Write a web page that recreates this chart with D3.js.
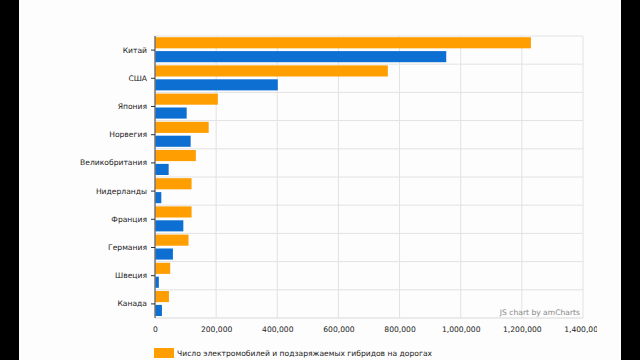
<!DOCTYPE html>
<html>
<head>
<meta charset="utf-8">
<script src="https://cdn.jsdelivr.net/npm/d3@7/dist/d3.min.js"></script>
<style>
html,body{margin:0;padding:0;background:#000;}
svg{display:block;}
</style>
</head>
<body>
<svg id="chart" width="640" height="360"></svg>
<script>
const categories = ["Китай","США","Япония","Норвегия","Великобритания","Нидерланды","Франция","Германия","Швеция","Канада"];
const seriesNames = ["Число электромобилей и подзаряжаемых гибридов на дорогах"];
const seriesA = [1228000, 760000, 204000, 174000, 132000, 118000, 118000, 108000, 48000, 44000];
const seriesB = [951000, 400000, 102000, 115000, 43000, 19000, 91000, 57000, 11000, 21000];
const xTicks = [0,200000,400000,600000,800000,1000000,1200000,1400000];
const colors = ["#FF9E01","#0E6FD3"];

const svg = d3.select("#chart");
const font = "DejaVu Sans, Verdana, sans-serif";

// page background
svg.append("rect").attr("x",19).attr("y",0).attr("width",602).attr("height",360).attr("fill","#fdfdfd");

const pL = 155, pR = 583, pT = 36, pB = 318;
const x = d3.scaleLinear().domain([0,1400000]).range([pL,pR]);
const y = d3.scaleBand().domain(categories).range([pT,pB]).padding(0);
const sub = d3.scaleBand().domain([0,1]).range([1.2, y.bandwidth()-2]).paddingInner(0.2).paddingOuter(0);

svg.append("defs").append("clipPath").attr("id","pg")
  .append("rect").attr("x",19).attr("y",0).attr("width",578).attr("height",360);

// grid
const g = svg.append("g");
g.selectAll("line.vg").data(xTicks.slice(1)).enter().append("line")
  .attr("x1",d=>x(d)).attr("x2",d=>x(d)).attr("y1",pT).attr("y2",pB)
  .attr("stroke","#e2e2e2").attr("stroke-width",1);
g.selectAll("line.hg").data(categories).enter().append("line")
  .attr("x1",pL).attr("x2",pR).attr("y1",d=>y(d)).attr("y2",d=>y(d))
  .attr("stroke","#e2e2e2").attr("stroke-width",1);
g.append("line").attr("x1",pL).attr("x2",pR).attr("y1",pB).attr("y2",pB)
  .attr("stroke","#d8d8d8");

// bars
const data = categories.map((c,i)=>({c, v:[seriesA[i], seriesB[i]]}));
const grp = svg.append("g").selectAll("g").data(data).enter().append("g")
  .attr("transform",d=>`translate(0,${y(d.c)})`);
grp.selectAll("rect").data(d=>d.v.map((v,k)=>({v,k}))).enter().append("rect")
  .attr("x",x(0)+0.5).attr("y",d=>sub(d.k)).attr("height",sub.bandwidth())
  .attr("width",d=>x(d.v)-x(0)).attr("fill",d=>colors[d.k]);

// y axis
const ya = d3.axisLeft(y).tickSize(4).tickPadding(4);
const yg = svg.append("g").attr("transform",`translate(${pL},0)`).call(ya);
yg.select(".domain").attr("stroke","#333").attr("d",`M0,${pT}V${pB}`);
yg.selectAll(".tick line").attr("stroke","#333");
yg.selectAll("text").attr("font-family",font).attr("font-size","7.6px").attr("fill","#222");

// x axis labels
const xa = d3.axisBottom(x).tickValues(xTicks).tickFormat(d3.format(",")).tickSize(0).tickPadding(9);
const xg = svg.append("g").attr("transform",`translate(0,${pB})`).attr("clip-path","url(#pg)").call(xa);
xg.select(".domain").remove();
xg.selectAll("text").attr("font-family",font).attr("font-size","7.6px").attr("fill","#222");

// credit
svg.append("text").attr("x",580).attr("y",315).attr("text-anchor","end")
  .attr("font-family",font).attr("font-size","7.6px").attr("fill","#888").text("JS chart by amCharts");

// legend
const lg = svg.append("g").selectAll("g").data(seriesNames).enter().append("g")
  .attr("transform",(d,i)=>`translate(154,${348 + i*22})`);
lg.append("rect").attr("width",20).attr("height",10).attr("fill",(d,i)=>colors[i]);
lg.append("text").attr("x",23).attr("y",8).attr("font-family",font).attr("font-size","7.6px").attr("fill","#222").text(d=>d);
</script>
</body>
</html>
